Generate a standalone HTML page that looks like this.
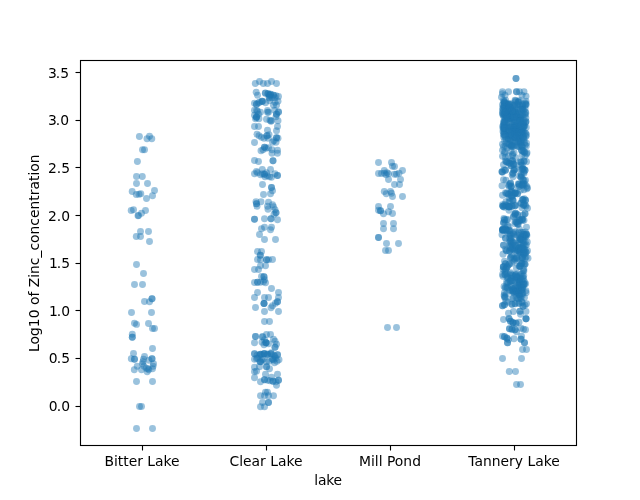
<!DOCTYPE html>
<html lang="en"><head><meta charset="utf-8"><title>Log10 of Zinc_concentration by lake</title>
<style>html,body{margin:0;padding:0;background:#fff;}body{width:640px;height:500px;overflow:hidden;}svg{display:block;}text{font-family:"DejaVu Sans","Liberation Sans",sans-serif;font-size:13.889px;fill:#000;}</style></head><body>
<svg width="640" height="500" viewBox="0 0 640 500">
<rect x="0" y="0" width="640" height="500" fill="#ffffff"/>
<g fill="#1f77b4" fill-opacity="0.450" stroke="none">
<circle cx="139.40" cy="136.50" r="3.47"/>
<circle cx="149.50" cy="136.20" r="3.47"/>
<circle cx="147.00" cy="138.70" r="3.47"/>
<circle cx="151.80" cy="138.70" r="3.47"/>
<circle cx="142.50" cy="149.70" r="3.47"/>
<circle cx="144.50" cy="149.70" r="3.47"/>
<circle cx="137.40" cy="161.50" r="3.47"/>
<circle cx="136.50" cy="176.50" r="3.47"/>
<circle cx="142.30" cy="176.50" r="3.47"/>
<circle cx="136.50" cy="183.50" r="3.47"/>
<circle cx="147.50" cy="183.50" r="3.47"/>
<circle cx="132.20" cy="191.50" r="3.47"/>
<circle cx="154.50" cy="190.50" r="3.47"/>
<circle cx="136.30" cy="194.50" r="3.47"/>
<circle cx="139.00" cy="194.20" r="3.47"/>
<circle cx="140.80" cy="193.70" r="3.47"/>
<circle cx="152.50" cy="195.70" r="3.47"/>
<circle cx="146.50" cy="198.50" r="3.47"/>
<circle cx="131.20" cy="210.50" r="3.47"/>
<circle cx="133.50" cy="209.70" r="3.47"/>
<circle cx="145.50" cy="210.50" r="3.47"/>
<circle cx="141.50" cy="213.20" r="3.47"/>
<circle cx="138.50" cy="215.50" r="3.47"/>
<circle cx="138.00" cy="215.70" r="3.47"/>
<circle cx="140.50" cy="231.50" r="3.47"/>
<circle cx="148.50" cy="231.50" r="3.47"/>
<circle cx="136.30" cy="236.50" r="3.47"/>
<circle cx="140.50" cy="236.50" r="3.47"/>
<circle cx="149.50" cy="241.50" r="3.47"/>
<circle cx="136.50" cy="264.50" r="3.47"/>
<circle cx="143.50" cy="273.50" r="3.47"/>
<circle cx="134.50" cy="284.50" r="3.47"/>
<circle cx="142.50" cy="284.50" r="3.47"/>
<circle cx="144.50" cy="301.50" r="3.47"/>
<circle cx="149.50" cy="301.70" r="3.47"/>
<circle cx="152.00" cy="298.70" r="3.47"/>
<circle cx="152.00" cy="298.70" r="3.47"/>
<circle cx="131.50" cy="312.50" r="3.47"/>
<circle cx="151.50" cy="312.50" r="3.47"/>
<circle cx="134.50" cy="323.20" r="3.47"/>
<circle cx="136.50" cy="324.40" r="3.47"/>
<circle cx="148.50" cy="323.50" r="3.47"/>
<circle cx="152.50" cy="328.50" r="3.47"/>
<circle cx="154.50" cy="328.50" r="3.47"/>
<circle cx="132.30" cy="334.20" r="3.47"/>
<circle cx="132.30" cy="337.20" r="3.47"/>
<circle cx="132.30" cy="337.20" r="3.47"/>
<circle cx="152.50" cy="348.50" r="3.47"/>
<circle cx="133.50" cy="353.50" r="3.47"/>
<circle cx="131.30" cy="358.70" r="3.47"/>
<circle cx="134.50" cy="359.20" r="3.47"/>
<circle cx="134.50" cy="359.20" r="3.47"/>
<circle cx="144.50" cy="356.50" r="3.47"/>
<circle cx="143.50" cy="359.20" r="3.47"/>
<circle cx="152.00" cy="358.70" r="3.47"/>
<circle cx="152.00" cy="358.70" r="3.47"/>
<circle cx="149.00" cy="360.20" r="3.47"/>
<circle cx="153.50" cy="363.70" r="3.47"/>
<circle cx="142.50" cy="363.70" r="3.47"/>
<circle cx="137.20" cy="366.20" r="3.47"/>
<circle cx="134.30" cy="369.70" r="3.47"/>
<circle cx="141.50" cy="369.70" r="3.47"/>
<circle cx="146.20" cy="368.20" r="3.47"/>
<circle cx="148.00" cy="368.80" r="3.47"/>
<circle cx="148.80" cy="369.80" r="3.47"/>
<circle cx="147.20" cy="371.70" r="3.47"/>
<circle cx="152.50" cy="368.70" r="3.47"/>
<circle cx="144.00" cy="366.20" r="3.47"/>
<circle cx="136.50" cy="381.50" r="3.47"/>
<circle cx="152.50" cy="381.50" r="3.47"/>
<circle cx="153.00" cy="366.20" r="3.47"/>
<circle cx="143.00" cy="361.70" r="3.47"/>
<circle cx="139.50" cy="406.50" r="3.47"/>
<circle cx="141.50" cy="406.50" r="3.47"/>
<circle cx="136.50" cy="428.50" r="3.47"/>
<circle cx="152.50" cy="428.50" r="3.47"/>
<circle cx="255.30" cy="83.50" r="3.47"/>
<circle cx="259.50" cy="81.50" r="3.47"/>
<circle cx="263.30" cy="83.50" r="3.47"/>
<circle cx="267.50" cy="83.50" r="3.47"/>
<circle cx="271.50" cy="81.50" r="3.47"/>
<circle cx="276.50" cy="83.50" r="3.47"/>
<circle cx="256.20" cy="92.20" r="3.47"/>
<circle cx="257.50" cy="95.20" r="3.47"/>
<circle cx="265.30" cy="93.20" r="3.47"/>
<circle cx="268.00" cy="93.70" r="3.47"/>
<circle cx="268.00" cy="93.70" r="3.47"/>
<circle cx="270.50" cy="94.20" r="3.47"/>
<circle cx="270.50" cy="94.20" r="3.47"/>
<circle cx="273.50" cy="95.20" r="3.47"/>
<circle cx="273.50" cy="95.20" r="3.47"/>
<circle cx="276.00" cy="95.70" r="3.47"/>
<circle cx="278.50" cy="96.50" r="3.47"/>
<circle cx="269.00" cy="97.20" r="3.47"/>
<circle cx="272.00" cy="97.70" r="3.47"/>
<circle cx="275.00" cy="97.70" r="3.47"/>
<circle cx="262.00" cy="101.20" r="3.47"/>
<circle cx="262.00" cy="101.20" r="3.47"/>
<circle cx="259.50" cy="102.20" r="3.47"/>
<circle cx="256.50" cy="104.20" r="3.47"/>
<circle cx="256.50" cy="104.20" r="3.47"/>
<circle cx="254.50" cy="103.20" r="3.47"/>
<circle cx="265.50" cy="102.70" r="3.47"/>
<circle cx="269.50" cy="100.70" r="3.47"/>
<circle cx="275.00" cy="102.20" r="3.47"/>
<circle cx="278.00" cy="101.20" r="3.47"/>
<circle cx="273.50" cy="105.20" r="3.47"/>
<circle cx="276.50" cy="105.20" r="3.47"/>
<circle cx="267.50" cy="110.50" r="3.47"/>
<circle cx="268.50" cy="112.20" r="3.47"/>
<circle cx="254.50" cy="110.20" r="3.47"/>
<circle cx="257.50" cy="111.20" r="3.47"/>
<circle cx="260.50" cy="112.20" r="3.47"/>
<circle cx="274.50" cy="110.20" r="3.47"/>
<circle cx="278.50" cy="111.70" r="3.47"/>
<circle cx="254.50" cy="115.20" r="3.47"/>
<circle cx="256.50" cy="117.20" r="3.47"/>
<circle cx="256.50" cy="117.20" r="3.47"/>
<circle cx="258.50" cy="114.20" r="3.47"/>
<circle cx="255.50" cy="118.70" r="3.47"/>
<circle cx="259.00" cy="118.70" r="3.47"/>
<circle cx="267.50" cy="112.20" r="3.47"/>
<circle cx="276.50" cy="114.20" r="3.47"/>
<circle cx="276.50" cy="114.20" r="3.47"/>
<circle cx="278.50" cy="112.20" r="3.47"/>
<circle cx="276.00" cy="116.70" r="3.47"/>
<circle cx="266.50" cy="119.20" r="3.47"/>
<circle cx="270.00" cy="120.20" r="3.47"/>
<circle cx="271.50" cy="120.70" r="3.47"/>
<circle cx="278.00" cy="120.70" r="3.47"/>
<circle cx="254.50" cy="126.50" r="3.47"/>
<circle cx="258.50" cy="126.50" r="3.47"/>
<circle cx="277.50" cy="126.50" r="3.47"/>
<circle cx="267.50" cy="130.20" r="3.47"/>
<circle cx="276.50" cy="130.70" r="3.47"/>
<circle cx="257.00" cy="134.20" r="3.47"/>
<circle cx="259.00" cy="135.70" r="3.47"/>
<circle cx="261.50" cy="137.20" r="3.47"/>
<circle cx="264.00" cy="138.20" r="3.47"/>
<circle cx="267.00" cy="135.70" r="3.47"/>
<circle cx="267.00" cy="135.70" r="3.47"/>
<circle cx="269.00" cy="134.70" r="3.47"/>
<circle cx="268.00" cy="138.20" r="3.47"/>
<circle cx="276.50" cy="137.70" r="3.47"/>
<circle cx="276.50" cy="137.70" r="3.47"/>
<circle cx="278.00" cy="138.20" r="3.47"/>
<circle cx="274.00" cy="140.70" r="3.47"/>
<circle cx="272.50" cy="142.20" r="3.47"/>
<circle cx="276.00" cy="142.20" r="3.47"/>
<circle cx="254.50" cy="142.50" r="3.47"/>
<circle cx="264.50" cy="147.20" r="3.47"/>
<circle cx="264.50" cy="147.20" r="3.47"/>
<circle cx="266.00" cy="148.20" r="3.47"/>
<circle cx="263.00" cy="149.70" r="3.47"/>
<circle cx="261.00" cy="150.70" r="3.47"/>
<circle cx="268.50" cy="147.70" r="3.47"/>
<circle cx="272.00" cy="149.70" r="3.47"/>
<circle cx="277.50" cy="150.20" r="3.47"/>
<circle cx="272.00" cy="153.20" r="3.47"/>
<circle cx="277.50" cy="153.20" r="3.47"/>
<circle cx="254.50" cy="160.50" r="3.47"/>
<circle cx="258.50" cy="161.50" r="3.47"/>
<circle cx="273.00" cy="160.70" r="3.47"/>
<circle cx="273.00" cy="160.70" r="3.47"/>
<circle cx="262.30" cy="169.50" r="3.47"/>
<circle cx="270.50" cy="169.50" r="3.47"/>
<circle cx="256.50" cy="171.50" r="3.47"/>
<circle cx="254.50" cy="173.70" r="3.47"/>
<circle cx="257.50" cy="172.70" r="3.47"/>
<circle cx="260.50" cy="174.70" r="3.47"/>
<circle cx="262.50" cy="173.70" r="3.47"/>
<circle cx="264.50" cy="174.20" r="3.47"/>
<circle cx="264.50" cy="174.20" r="3.47"/>
<circle cx="266.50" cy="172.70" r="3.47"/>
<circle cx="267.50" cy="175.70" r="3.47"/>
<circle cx="269.50" cy="176.70" r="3.47"/>
<circle cx="265.00" cy="176.70" r="3.47"/>
<circle cx="271.50" cy="177.20" r="3.47"/>
<circle cx="275.00" cy="173.70" r="3.47"/>
<circle cx="277.50" cy="175.50" r="3.47"/>
<circle cx="277.50" cy="175.50" r="3.47"/>
<circle cx="262.50" cy="184.50" r="3.47"/>
<circle cx="271.50" cy="187.50" r="3.47"/>
<circle cx="271.50" cy="187.50" r="3.47"/>
<circle cx="272.50" cy="190.70" r="3.47"/>
<circle cx="270.50" cy="193.70" r="3.47"/>
<circle cx="263.50" cy="194.50" r="3.47"/>
<circle cx="256.00" cy="201.70" r="3.47"/>
<circle cx="256.50" cy="203.70" r="3.47"/>
<circle cx="256.50" cy="203.70" r="3.47"/>
<circle cx="257.00" cy="206.20" r="3.47"/>
<circle cx="261.00" cy="201.70" r="3.47"/>
<circle cx="268.50" cy="202.20" r="3.47"/>
<circle cx="267.50" cy="206.20" r="3.47"/>
<circle cx="268.00" cy="209.20" r="3.47"/>
<circle cx="272.50" cy="204.70" r="3.47"/>
<circle cx="273.50" cy="206.70" r="3.47"/>
<circle cx="275.00" cy="209.70" r="3.47"/>
<circle cx="276.00" cy="212.70" r="3.47"/>
<circle cx="276.00" cy="212.70" r="3.47"/>
<circle cx="274.00" cy="214.20" r="3.47"/>
<circle cx="254.50" cy="219.20" r="3.47"/>
<circle cx="254.50" cy="219.20" r="3.47"/>
<circle cx="264.50" cy="218.70" r="3.47"/>
<circle cx="271.00" cy="218.70" r="3.47"/>
<circle cx="271.00" cy="218.70" r="3.47"/>
<circle cx="277.50" cy="219.70" r="3.47"/>
<circle cx="264.50" cy="227.20" r="3.47"/>
<circle cx="261.50" cy="228.70" r="3.47"/>
<circle cx="271.50" cy="227.20" r="3.47"/>
<circle cx="270.50" cy="229.70" r="3.47"/>
<circle cx="259.50" cy="234.50" r="3.47"/>
<circle cx="264.50" cy="239.50" r="3.47"/>
<circle cx="275.50" cy="239.50" r="3.47"/>
<circle cx="257.50" cy="251.50" r="3.47"/>
<circle cx="261.50" cy="251.50" r="3.47"/>
<circle cx="260.30" cy="255.20" r="3.47"/>
<circle cx="260.30" cy="255.20" r="3.47"/>
<circle cx="257.50" cy="259.50" r="3.47"/>
<circle cx="260.50" cy="259.70" r="3.47"/>
<circle cx="266.50" cy="259.70" r="3.47"/>
<circle cx="266.50" cy="259.70" r="3.47"/>
<circle cx="268.50" cy="259.70" r="3.47"/>
<circle cx="272.50" cy="259.50" r="3.47"/>
<circle cx="260.50" cy="265.70" r="3.47"/>
<circle cx="265.50" cy="265.70" r="3.47"/>
<circle cx="254.50" cy="269.50" r="3.47"/>
<circle cx="258.50" cy="269.50" r="3.47"/>
<circle cx="261.50" cy="276.50" r="3.47"/>
<circle cx="264.00" cy="276.70" r="3.47"/>
<circle cx="264.00" cy="276.70" r="3.47"/>
<circle cx="254.50" cy="282.50" r="3.47"/>
<circle cx="257.50" cy="282.20" r="3.47"/>
<circle cx="257.50" cy="282.20" r="3.47"/>
<circle cx="260.50" cy="282.20" r="3.47"/>
<circle cx="263.50" cy="281.70" r="3.47"/>
<circle cx="265.50" cy="282.70" r="3.47"/>
<circle cx="264.50" cy="279.70" r="3.47"/>
<circle cx="271.50" cy="288.50" r="3.47"/>
<circle cx="257.50" cy="292.50" r="3.47"/>
<circle cx="278.50" cy="292.50" r="3.47"/>
<circle cx="254.50" cy="297.50" r="3.47"/>
<circle cx="264.50" cy="297.50" r="3.47"/>
<circle cx="268.50" cy="297.50" r="3.47"/>
<circle cx="278.50" cy="297.50" r="3.47"/>
<circle cx="264.00" cy="303.50" r="3.47"/>
<circle cx="264.00" cy="303.50" r="3.47"/>
<circle cx="264.00" cy="303.50" r="3.47"/>
<circle cx="277.50" cy="301.70" r="3.47"/>
<circle cx="277.50" cy="301.70" r="3.47"/>
<circle cx="275.50" cy="303.20" r="3.47"/>
<circle cx="272.50" cy="305.70" r="3.47"/>
<circle cx="271.00" cy="307.70" r="3.47"/>
<circle cx="255.50" cy="307.50" r="3.47"/>
<circle cx="264.50" cy="311.50" r="3.47"/>
<circle cx="278.50" cy="311.50" r="3.47"/>
<circle cx="264.50" cy="321.50" r="3.47"/>
<circle cx="269.50" cy="321.50" r="3.47"/>
<circle cx="255.50" cy="336.50" r="3.47"/>
<circle cx="255.50" cy="336.50" r="3.47"/>
<circle cx="266.50" cy="334.50" r="3.47"/>
<circle cx="270.50" cy="334.50" r="3.47"/>
<circle cx="262.50" cy="336.70" r="3.47"/>
<circle cx="262.50" cy="336.70" r="3.47"/>
<circle cx="254.50" cy="342.70" r="3.47"/>
<circle cx="264.50" cy="339.70" r="3.47"/>
<circle cx="266.00" cy="342.70" r="3.47"/>
<circle cx="266.00" cy="342.70" r="3.47"/>
<circle cx="266.00" cy="342.70" r="3.47"/>
<circle cx="262.00" cy="342.20" r="3.47"/>
<circle cx="268.50" cy="343.70" r="3.47"/>
<circle cx="264.00" cy="344.70" r="3.47"/>
<circle cx="273.50" cy="339.20" r="3.47"/>
<circle cx="275.00" cy="341.20" r="3.47"/>
<circle cx="276.50" cy="344.20" r="3.47"/>
<circle cx="275.00" cy="347.20" r="3.47"/>
<circle cx="275.00" cy="347.20" r="3.47"/>
<circle cx="254.50" cy="353.70" r="3.47"/>
<circle cx="254.50" cy="353.70" r="3.47"/>
<circle cx="257.00" cy="355.20" r="3.47"/>
<circle cx="260.50" cy="354.20" r="3.47"/>
<circle cx="260.50" cy="354.20" r="3.47"/>
<circle cx="264.00" cy="353.70" r="3.47"/>
<circle cx="264.00" cy="353.70" r="3.47"/>
<circle cx="267.50" cy="354.20" r="3.47"/>
<circle cx="267.50" cy="354.20" r="3.47"/>
<circle cx="271.00" cy="353.70" r="3.47"/>
<circle cx="271.00" cy="353.70" r="3.47"/>
<circle cx="274.00" cy="355.20" r="3.47"/>
<circle cx="277.50" cy="354.70" r="3.47"/>
<circle cx="277.50" cy="354.70" r="3.47"/>
<circle cx="254.50" cy="359.20" r="3.47"/>
<circle cx="257.50" cy="358.20" r="3.47"/>
<circle cx="260.50" cy="361.70" r="3.47"/>
<circle cx="260.50" cy="361.70" r="3.47"/>
<circle cx="263.00" cy="359.20" r="3.47"/>
<circle cx="266.50" cy="361.70" r="3.47"/>
<circle cx="269.00" cy="361.20" r="3.47"/>
<circle cx="272.50" cy="359.20" r="3.47"/>
<circle cx="272.50" cy="359.20" r="3.47"/>
<circle cx="275.50" cy="358.20" r="3.47"/>
<circle cx="277.00" cy="361.20" r="3.47"/>
<circle cx="279.00" cy="359.70" r="3.47"/>
<circle cx="274.50" cy="362.70" r="3.47"/>
<circle cx="254.50" cy="367.20" r="3.47"/>
<circle cx="259.50" cy="366.70" r="3.47"/>
<circle cx="266.50" cy="366.70" r="3.47"/>
<circle cx="266.50" cy="366.70" r="3.47"/>
<circle cx="269.50" cy="368.70" r="3.47"/>
<circle cx="254.50" cy="371.70" r="3.47"/>
<circle cx="256.50" cy="371.20" r="3.47"/>
<circle cx="265.50" cy="374.20" r="3.47"/>
<circle cx="277.50" cy="374.20" r="3.47"/>
<circle cx="254.50" cy="377.70" r="3.47"/>
<circle cx="271.50" cy="377.20" r="3.47"/>
<circle cx="264.50" cy="379.70" r="3.47"/>
<circle cx="264.50" cy="379.70" r="3.47"/>
<circle cx="267.50" cy="380.20" r="3.47"/>
<circle cx="270.00" cy="380.70" r="3.47"/>
<circle cx="273.00" cy="381.20" r="3.47"/>
<circle cx="273.00" cy="381.20" r="3.47"/>
<circle cx="276.00" cy="381.70" r="3.47"/>
<circle cx="278.50" cy="380.20" r="3.47"/>
<circle cx="278.50" cy="380.20" r="3.47"/>
<circle cx="260.50" cy="381.70" r="3.47"/>
<circle cx="276.50" cy="385.20" r="3.47"/>
<circle cx="265.50" cy="392.20" r="3.47"/>
<circle cx="267.50" cy="392.20" r="3.47"/>
<circle cx="260.50" cy="395.70" r="3.47"/>
<circle cx="264.50" cy="395.70" r="3.47"/>
<circle cx="268.50" cy="395.70" r="3.47"/>
<circle cx="273.50" cy="395.70" r="3.47"/>
<circle cx="262.50" cy="402.50" r="3.47"/>
<circle cx="268.50" cy="402.50" r="3.47"/>
<circle cx="268.50" cy="402.50" r="3.47"/>
<circle cx="260.50" cy="406.70" r="3.47"/>
<circle cx="264.50" cy="406.70" r="3.47"/>
<circle cx="265.41" cy="92.89" r="3.47"/>
<circle cx="269.33" cy="95.01" r="3.47"/>
<circle cx="269.86" cy="95.39" r="3.47"/>
<circle cx="269.32" cy="98.08" r="3.47"/>
<circle cx="262.62" cy="101.42" r="3.47"/>
<circle cx="258.37" cy="103.08" r="3.47"/>
<circle cx="256.63" cy="110.52" r="3.47"/>
<circle cx="256.52" cy="116.93" r="3.47"/>
<circle cx="270.87" cy="121.32" r="3.47"/>
<circle cx="261.30" cy="354.38" r="3.47"/>
<circle cx="259.45" cy="355.05" r="3.47"/>
<circle cx="264.72" cy="353.49" r="3.47"/>
<circle cx="267.01" cy="354.85" r="3.47"/>
<circle cx="271.27" cy="352.61" r="3.47"/>
<circle cx="274.91" cy="356.35" r="3.47"/>
<circle cx="256.48" cy="358.44" r="3.47"/>
<circle cx="259.77" cy="361.48" r="3.47"/>
<circle cx="261.90" cy="360.08" r="3.47"/>
<circle cx="273.60" cy="360.15" r="3.47"/>
<circle cx="378.50" cy="162.50" r="3.47"/>
<circle cx="391.50" cy="162.50" r="3.47"/>
<circle cx="394.50" cy="166.50" r="3.47"/>
<circle cx="392.50" cy="166.20" r="3.47"/>
<circle cx="402.50" cy="170.50" r="3.47"/>
<circle cx="384.30" cy="170.50" r="3.47"/>
<circle cx="378.50" cy="173.50" r="3.47"/>
<circle cx="381.50" cy="173.50" r="3.47"/>
<circle cx="384.50" cy="173.20" r="3.47"/>
<circle cx="387.00" cy="172.70" r="3.47"/>
<circle cx="388.50" cy="173.70" r="3.47"/>
<circle cx="386.00" cy="174.70" r="3.47"/>
<circle cx="394.50" cy="174.20" r="3.47"/>
<circle cx="396.50" cy="174.20" r="3.47"/>
<circle cx="399.00" cy="173.20" r="3.47"/>
<circle cx="388.50" cy="179.50" r="3.47"/>
<circle cx="400.50" cy="179.50" r="3.47"/>
<circle cx="394.50" cy="184.50" r="3.47"/>
<circle cx="399.50" cy="184.50" r="3.47"/>
<circle cx="384.30" cy="191.50" r="3.47"/>
<circle cx="390.50" cy="191.50" r="3.47"/>
<circle cx="386.30" cy="193.70" r="3.47"/>
<circle cx="391.50" cy="193.20" r="3.47"/>
<circle cx="392.50" cy="196.50" r="3.47"/>
<circle cx="402.50" cy="196.50" r="3.47"/>
<circle cx="378.50" cy="206.50" r="3.47"/>
<circle cx="390.50" cy="206.50" r="3.47"/>
<circle cx="378.50" cy="210.20" r="3.47"/>
<circle cx="380.50" cy="210.70" r="3.47"/>
<circle cx="380.50" cy="210.70" r="3.47"/>
<circle cx="383.50" cy="213.70" r="3.47"/>
<circle cx="388.50" cy="211.70" r="3.47"/>
<circle cx="392.50" cy="213.50" r="3.47"/>
<circle cx="383.50" cy="223.50" r="3.47"/>
<circle cx="393.50" cy="223.50" r="3.47"/>
<circle cx="383.50" cy="228.70" r="3.47"/>
<circle cx="393.50" cy="228.70" r="3.47"/>
<circle cx="378.50" cy="237.50" r="3.47"/>
<circle cx="378.50" cy="237.50" r="3.47"/>
<circle cx="386.50" cy="243.50" r="3.47"/>
<circle cx="398.50" cy="243.50" r="3.47"/>
<circle cx="385.50" cy="250.50" r="3.47"/>
<circle cx="388.50" cy="250.50" r="3.47"/>
<circle cx="387.50" cy="327.50" r="3.47"/>
<circle cx="396.50" cy="327.50" r="3.47"/>
<circle cx="516.00" cy="78.50" r="3.47"/>
<circle cx="516.00" cy="78.50" r="3.47"/>
<circle cx="502.50" cy="91.70" r="3.47"/>
<circle cx="508.50" cy="91.70" r="3.47"/>
<circle cx="516.50" cy="91.70" r="3.47"/>
<circle cx="516.50" cy="91.70" r="3.47"/>
<circle cx="519.50" cy="91.70" r="3.47"/>
<circle cx="524.00" cy="91.70" r="3.47"/>
<circle cx="502.50" cy="93.70" r="3.47"/>
<circle cx="501.50" cy="97.20" r="3.47"/>
<circle cx="505.00" cy="95.20" r="3.47"/>
<circle cx="522.00" cy="95.20" r="3.47"/>
<circle cx="526.00" cy="96.20" r="3.47"/>
<circle cx="510.27" cy="104.75" r="3.47"/>
<circle cx="518.12" cy="102.13" r="3.47"/>
<circle cx="515.36" cy="111.95" r="3.47"/>
<circle cx="503.89" cy="116.70" r="3.47"/>
<circle cx="503.40" cy="114.23" r="3.47"/>
<circle cx="504.18" cy="102.74" r="3.47"/>
<circle cx="512.69" cy="127.40" r="3.47"/>
<circle cx="505.47" cy="107.18" r="3.47"/>
<circle cx="517.56" cy="131.45" r="3.47"/>
<circle cx="516.35" cy="112.99" r="3.47"/>
<circle cx="525.93" cy="101.26" r="3.47"/>
<circle cx="523.10" cy="109.40" r="3.47"/>
<circle cx="505.96" cy="103.65" r="3.47"/>
<circle cx="509.90" cy="127.04" r="3.47"/>
<circle cx="506.84" cy="119.18" r="3.47"/>
<circle cx="517.83" cy="112.18" r="3.47"/>
<circle cx="515.65" cy="101.80" r="3.47"/>
<circle cx="503.93" cy="106.60" r="3.47"/>
<circle cx="518.83" cy="114.02" r="3.47"/>
<circle cx="510.04" cy="119.32" r="3.47"/>
<circle cx="513.38" cy="109.74" r="3.47"/>
<circle cx="521.57" cy="123.12" r="3.47"/>
<circle cx="508.36" cy="118.94" r="3.47"/>
<circle cx="515.10" cy="129.02" r="3.47"/>
<circle cx="520.01" cy="109.35" r="3.47"/>
<circle cx="526.02" cy="103.66" r="3.47"/>
<circle cx="512.53" cy="125.06" r="3.47"/>
<circle cx="506.15" cy="116.08" r="3.47"/>
<circle cx="503.44" cy="122.09" r="3.47"/>
<circle cx="520.85" cy="118.90" r="3.47"/>
<circle cx="523.51" cy="110.21" r="3.47"/>
<circle cx="519.19" cy="119.61" r="3.47"/>
<circle cx="516.42" cy="114.98" r="3.47"/>
<circle cx="522.66" cy="131.35" r="3.47"/>
<circle cx="513.88" cy="121.95" r="3.47"/>
<circle cx="503.96" cy="123.20" r="3.47"/>
<circle cx="518.03" cy="132.97" r="3.47"/>
<circle cx="522.23" cy="109.23" r="3.47"/>
<circle cx="511.76" cy="122.10" r="3.47"/>
<circle cx="503.04" cy="115.17" r="3.47"/>
<circle cx="506.53" cy="103.62" r="3.47"/>
<circle cx="503.91" cy="125.44" r="3.47"/>
<circle cx="505.60" cy="108.00" r="3.47"/>
<circle cx="511.88" cy="128.89" r="3.47"/>
<circle cx="504.43" cy="114.75" r="3.47"/>
<circle cx="515.69" cy="129.29" r="3.47"/>
<circle cx="522.16" cy="128.64" r="3.47"/>
<circle cx="509.18" cy="113.61" r="3.47"/>
<circle cx="511.11" cy="129.32" r="3.47"/>
<circle cx="525.49" cy="104.76" r="3.47"/>
<circle cx="506.73" cy="107.47" r="3.47"/>
<circle cx="508.10" cy="115.95" r="3.47"/>
<circle cx="516.64" cy="108.50" r="3.47"/>
<circle cx="502.60" cy="113.73" r="3.47"/>
<circle cx="511.36" cy="118.67" r="3.47"/>
<circle cx="525.37" cy="122.83" r="3.47"/>
<circle cx="514.87" cy="120.39" r="3.47"/>
<circle cx="518.73" cy="101.51" r="3.47"/>
<circle cx="524.09" cy="125.83" r="3.47"/>
<circle cx="523.49" cy="126.43" r="3.47"/>
<circle cx="511.92" cy="113.07" r="3.47"/>
<circle cx="504.98" cy="120.95" r="3.47"/>
<circle cx="503.99" cy="101.96" r="3.47"/>
<circle cx="507.51" cy="105.14" r="3.47"/>
<circle cx="502.51" cy="104.77" r="3.47"/>
<circle cx="504.94" cy="111.88" r="3.47"/>
<circle cx="503.11" cy="128.99" r="3.47"/>
<circle cx="517.24" cy="104.68" r="3.47"/>
<circle cx="508.55" cy="111.34" r="3.47"/>
<circle cx="511.24" cy="103.82" r="3.47"/>
<circle cx="522.87" cy="132.97" r="3.47"/>
<circle cx="513.68" cy="115.91" r="3.47"/>
<circle cx="504.56" cy="103.12" r="3.47"/>
<circle cx="510.72" cy="108.57" r="3.47"/>
<circle cx="522.39" cy="105.11" r="3.47"/>
<circle cx="503.05" cy="131.56" r="3.47"/>
<circle cx="515.18" cy="104.61" r="3.47"/>
<circle cx="515.54" cy="100.61" r="3.47"/>
<circle cx="515.17" cy="132.48" r="3.47"/>
<circle cx="523.22" cy="123.02" r="3.47"/>
<circle cx="508.77" cy="111.98" r="3.47"/>
<circle cx="506.51" cy="125.56" r="3.47"/>
<circle cx="515.28" cy="125.80" r="3.47"/>
<circle cx="510.41" cy="107.17" r="3.47"/>
<circle cx="521.98" cy="132.70" r="3.47"/>
<circle cx="522.96" cy="126.70" r="3.47"/>
<circle cx="522.14" cy="124.49" r="3.47"/>
<circle cx="507.94" cy="117.04" r="3.47"/>
<circle cx="503.17" cy="109.06" r="3.47"/>
<circle cx="508.72" cy="122.90" r="3.47"/>
<circle cx="525.46" cy="114.68" r="3.47"/>
<circle cx="524.99" cy="132.80" r="3.47"/>
<circle cx="525.42" cy="111.92" r="3.47"/>
<circle cx="507.79" cy="107.30" r="3.47"/>
<circle cx="507.22" cy="106.55" r="3.47"/>
<circle cx="517.48" cy="129.86" r="3.47"/>
<circle cx="522.67" cy="115.76" r="3.47"/>
<circle cx="518.17" cy="126.49" r="3.47"/>
<circle cx="504.53" cy="121.83" r="3.47"/>
<circle cx="524.33" cy="125.91" r="3.47"/>
<circle cx="520.50" cy="115.71" r="3.47"/>
<circle cx="506.78" cy="126.14" r="3.47"/>
<circle cx="510.48" cy="126.53" r="3.47"/>
<circle cx="525.82" cy="112.96" r="3.47"/>
<circle cx="512.13" cy="131.42" r="3.47"/>
<circle cx="519.90" cy="105.40" r="3.47"/>
<circle cx="505.55" cy="104.76" r="3.47"/>
<circle cx="524.22" cy="126.72" r="3.47"/>
<circle cx="506.01" cy="127.39" r="3.47"/>
<circle cx="526.03" cy="121.72" r="3.47"/>
<circle cx="510.91" cy="118.08" r="3.47"/>
<circle cx="505.64" cy="100.18" r="3.47"/>
<circle cx="525.80" cy="121.46" r="3.47"/>
<circle cx="515.14" cy="130.98" r="3.47"/>
<circle cx="512.91" cy="128.90" r="3.47"/>
<circle cx="522.33" cy="106.77" r="3.47"/>
<circle cx="508.54" cy="109.51" r="3.47"/>
<circle cx="508.27" cy="119.35" r="3.47"/>
<circle cx="508.72" cy="113.74" r="3.47"/>
<circle cx="505.65" cy="130.19" r="3.47"/>
<circle cx="510.99" cy="115.05" r="3.47"/>
<circle cx="516.50" cy="129.99" r="3.47"/>
<circle cx="512.60" cy="130.44" r="3.47"/>
<circle cx="514.54" cy="117.52" r="3.47"/>
<circle cx="515.06" cy="100.33" r="3.47"/>
<circle cx="513.06" cy="105.83" r="3.47"/>
<circle cx="502.59" cy="126.47" r="3.47"/>
<circle cx="506.64" cy="115.56" r="3.47"/>
<circle cx="519.90" cy="118.34" r="3.47"/>
<circle cx="510.32" cy="117.06" r="3.47"/>
<circle cx="515.83" cy="125.97" r="3.47"/>
<circle cx="505.05" cy="118.47" r="3.47"/>
<circle cx="508.46" cy="108.98" r="3.47"/>
<circle cx="521.03" cy="116.71" r="3.47"/>
<circle cx="515.98" cy="125.16" r="3.47"/>
<circle cx="524.40" cy="114.55" r="3.47"/>
<circle cx="517.20" cy="116.64" r="3.47"/>
<circle cx="514.79" cy="122.91" r="3.47"/>
<circle cx="513.36" cy="117.57" r="3.47"/>
<circle cx="513.97" cy="131.24" r="3.47"/>
<circle cx="519.28" cy="129.06" r="3.47"/>
<circle cx="525.11" cy="108.40" r="3.47"/>
<circle cx="515.93" cy="131.30" r="3.47"/>
<circle cx="522.66" cy="104.29" r="3.47"/>
<circle cx="505.42" cy="114.51" r="3.47"/>
<circle cx="504.24" cy="107.76" r="3.47"/>
<circle cx="504.25" cy="122.13" r="3.47"/>
<circle cx="521.31" cy="129.75" r="3.47"/>
<circle cx="506.21" cy="123.69" r="3.47"/>
<circle cx="518.35" cy="104.49" r="3.47"/>
<circle cx="523.69" cy="132.11" r="3.47"/>
<circle cx="507.77" cy="131.61" r="3.47"/>
<circle cx="512.06" cy="116.02" r="3.47"/>
<circle cx="526.26" cy="127.59" r="3.47"/>
<circle cx="506.38" cy="114.16" r="3.47"/>
<circle cx="514.87" cy="111.06" r="3.47"/>
<circle cx="507.20" cy="110.37" r="3.47"/>
<circle cx="519.83" cy="100.35" r="3.47"/>
<circle cx="515.80" cy="114.46" r="3.47"/>
<circle cx="502.93" cy="110.81" r="3.47"/>
<circle cx="517.47" cy="116.86" r="3.47"/>
<circle cx="504.04" cy="132.70" r="3.47"/>
<circle cx="521.42" cy="132.25" r="3.47"/>
<circle cx="505.01" cy="108.60" r="3.47"/>
<circle cx="503.45" cy="125.80" r="3.47"/>
<circle cx="508.99" cy="104.04" r="3.47"/>
<circle cx="512.63" cy="130.23" r="3.47"/>
<circle cx="522.16" cy="108.36" r="3.47"/>
<circle cx="506.08" cy="130.49" r="3.47"/>
<circle cx="516.19" cy="123.16" r="3.47"/>
<circle cx="504.65" cy="101.63" r="3.47"/>
<circle cx="519.02" cy="113.95" r="3.47"/>
<circle cx="504.24" cy="131.13" r="3.47"/>
<circle cx="517.73" cy="126.55" r="3.47"/>
<circle cx="504.51" cy="128.38" r="3.47"/>
<circle cx="504.10" cy="128.60" r="3.47"/>
<circle cx="513.39" cy="111.06" r="3.47"/>
<circle cx="515.77" cy="130.74" r="3.47"/>
<circle cx="508.93" cy="104.03" r="3.47"/>
<circle cx="515.15" cy="107.69" r="3.47"/>
<circle cx="505.13" cy="105.11" r="3.47"/>
<circle cx="503.71" cy="106.46" r="3.47"/>
<circle cx="509.99" cy="109.92" r="3.47"/>
<circle cx="520.73" cy="109.41" r="3.47"/>
<circle cx="514.50" cy="105.66" r="3.47"/>
<circle cx="520.09" cy="118.16" r="3.47"/>
<circle cx="507.05" cy="115.60" r="3.47"/>
<circle cx="524.93" cy="103.26" r="3.47"/>
<circle cx="522.15" cy="114.18" r="3.47"/>
<circle cx="514.38" cy="127.66" r="3.47"/>
<circle cx="511.93" cy="116.67" r="3.47"/>
<circle cx="519.01" cy="132.61" r="3.47"/>
<circle cx="510.72" cy="127.58" r="3.47"/>
<circle cx="519.46" cy="121.01" r="3.47"/>
<circle cx="512.21" cy="111.34" r="3.47"/>
<circle cx="503.81" cy="104.05" r="3.47"/>
<circle cx="504.20" cy="124.52" r="3.47"/>
<circle cx="508.63" cy="105.17" r="3.47"/>
<circle cx="504.53" cy="127.88" r="3.47"/>
<circle cx="523.39" cy="122.16" r="3.47"/>
<circle cx="509.27" cy="107.81" r="3.47"/>
<circle cx="509.53" cy="115.09" r="3.47"/>
<circle cx="506.28" cy="114.64" r="3.47"/>
<circle cx="508.82" cy="131.92" r="3.47"/>
<circle cx="525.84" cy="118.03" r="3.47"/>
<circle cx="508.37" cy="132.05" r="3.47"/>
<circle cx="509.93" cy="111.65" r="3.47"/>
<circle cx="502.53" cy="112.48" r="3.47"/>
<circle cx="513.89" cy="116.54" r="3.47"/>
<circle cx="507.32" cy="116.61" r="3.47"/>
<circle cx="502.62" cy="108.55" r="3.47"/>
<circle cx="504.65" cy="113.08" r="3.47"/>
<circle cx="503.50" cy="100.45" r="3.47"/>
<circle cx="509.80" cy="107.50" r="3.47"/>
<circle cx="516.55" cy="117.43" r="3.47"/>
<circle cx="520.51" cy="121.73" r="3.47"/>
<circle cx="519.68" cy="129.15" r="3.47"/>
<circle cx="511.85" cy="110.63" r="3.47"/>
<circle cx="526.13" cy="104.71" r="3.47"/>
<circle cx="519.88" cy="121.25" r="3.47"/>
<circle cx="503.55" cy="127.68" r="3.47"/>
<circle cx="523.91" cy="120.72" r="3.47"/>
<circle cx="520.11" cy="126.91" r="3.47"/>
<circle cx="505.84" cy="117.25" r="3.47"/>
<circle cx="514.60" cy="127.67" r="3.47"/>
<circle cx="521.81" cy="127.38" r="3.47"/>
<circle cx="516.52" cy="129.61" r="3.47"/>
<circle cx="518.89" cy="122.93" r="3.47"/>
<circle cx="505.69" cy="111.78" r="3.47"/>
<circle cx="505.02" cy="127.70" r="3.47"/>
<circle cx="515.90" cy="120.73" r="3.47"/>
<circle cx="517.53" cy="122.50" r="3.47"/>
<circle cx="521.64" cy="124.77" r="3.47"/>
<circle cx="514.57" cy="117.63" r="3.47"/>
<circle cx="518.32" cy="101.91" r="3.47"/>
<circle cx="518.32" cy="135.24" r="3.47"/>
<circle cx="509.04" cy="135.45" r="3.47"/>
<circle cx="518.21" cy="134.48" r="3.47"/>
<circle cx="518.36" cy="146.81" r="3.47"/>
<circle cx="514.92" cy="137.32" r="3.47"/>
<circle cx="514.71" cy="142.14" r="3.47"/>
<circle cx="518.74" cy="141.07" r="3.47"/>
<circle cx="517.00" cy="132.44" r="3.47"/>
<circle cx="510.06" cy="135.26" r="3.47"/>
<circle cx="518.41" cy="136.07" r="3.47"/>
<circle cx="515.95" cy="131.40" r="3.47"/>
<circle cx="508.85" cy="135.50" r="3.47"/>
<circle cx="517.41" cy="142.27" r="3.47"/>
<circle cx="517.46" cy="135.85" r="3.47"/>
<circle cx="515.23" cy="138.63" r="3.47"/>
<circle cx="514.53" cy="133.10" r="3.47"/>
<circle cx="520.51" cy="134.39" r="3.47"/>
<circle cx="521.69" cy="146.18" r="3.47"/>
<circle cx="508.25" cy="138.54" r="3.47"/>
<circle cx="519.48" cy="146.69" r="3.47"/>
<circle cx="514.29" cy="135.50" r="3.47"/>
<circle cx="510.94" cy="146.33" r="3.47"/>
<circle cx="510.95" cy="140.50" r="3.47"/>
<circle cx="509.98" cy="139.59" r="3.47"/>
<circle cx="521.34" cy="133.32" r="3.47"/>
<circle cx="519.48" cy="139.34" r="3.47"/>
<circle cx="520.42" cy="142.45" r="3.47"/>
<circle cx="511.24" cy="145.56" r="3.47"/>
<circle cx="514.81" cy="131.60" r="3.47"/>
<circle cx="508.05" cy="139.07" r="3.47"/>
<circle cx="514.31" cy="136.03" r="3.47"/>
<circle cx="509.97" cy="136.70" r="3.47"/>
<circle cx="512.43" cy="144.64" r="3.47"/>
<circle cx="508.02" cy="143.21" r="3.47"/>
<circle cx="519.75" cy="133.12" r="3.47"/>
<circle cx="520.97" cy="142.61" r="3.47"/>
<circle cx="520.62" cy="135.84" r="3.47"/>
<circle cx="513.21" cy="137.49" r="3.47"/>
<circle cx="521.98" cy="140.63" r="3.47"/>
<circle cx="513.05" cy="138.05" r="3.47"/>
<circle cx="511.85" cy="131.97" r="3.47"/>
<circle cx="509.42" cy="144.55" r="3.47"/>
<circle cx="512.00" cy="146.17" r="3.47"/>
<circle cx="511.49" cy="135.45" r="3.47"/>
<circle cx="515.15" cy="134.24" r="3.47"/>
<circle cx="513.23" cy="146.50" r="3.47"/>
<circle cx="520.38" cy="144.19" r="3.47"/>
<circle cx="516.83" cy="145.81" r="3.47"/>
<circle cx="521.17" cy="139.99" r="3.47"/>
<circle cx="518.07" cy="131.99" r="3.47"/>
<circle cx="518.25" cy="138.41" r="3.47"/>
<circle cx="518.54" cy="141.51" r="3.47"/>
<circle cx="512.01" cy="131.98" r="3.47"/>
<circle cx="520.97" cy="133.24" r="3.47"/>
<circle cx="514.61" cy="136.70" r="3.47"/>
<circle cx="512.17" cy="143.02" r="3.47"/>
<circle cx="521.67" cy="135.36" r="3.47"/>
<circle cx="517.18" cy="136.01" r="3.47"/>
<circle cx="515.80" cy="137.51" r="3.47"/>
<circle cx="510.34" cy="133.79" r="3.47"/>
<circle cx="503.54" cy="146.79" r="3.47"/>
<circle cx="504.99" cy="136.50" r="3.47"/>
<circle cx="507.03" cy="148.15" r="3.47"/>
<circle cx="504.75" cy="135.29" r="3.47"/>
<circle cx="503.46" cy="134.56" r="3.47"/>
<circle cx="504.21" cy="134.57" r="3.47"/>
<circle cx="503.70" cy="137.08" r="3.47"/>
<circle cx="505.35" cy="146.51" r="3.47"/>
<circle cx="506.25" cy="139.39" r="3.47"/>
<circle cx="504.57" cy="141.06" r="3.47"/>
<circle cx="524.01" cy="138.27" r="3.47"/>
<circle cx="522.75" cy="137.36" r="3.47"/>
<circle cx="526.37" cy="135.09" r="3.47"/>
<circle cx="524.51" cy="142.64" r="3.47"/>
<circle cx="525.95" cy="136.44" r="3.47"/>
<circle cx="523.58" cy="136.93" r="3.47"/>
<circle cx="524.10" cy="139.89" r="3.47"/>
<circle cx="526.32" cy="145.93" r="3.47"/>
<circle cx="525.99" cy="133.53" r="3.47"/>
<circle cx="502.50" cy="144.20" r="3.47"/>
<circle cx="506.00" cy="143.20" r="3.47"/>
<circle cx="509.50" cy="144.20" r="3.47"/>
<circle cx="512.00" cy="146.20" r="3.47"/>
<circle cx="515.00" cy="145.20" r="3.47"/>
<circle cx="522.00" cy="146.20" r="3.47"/>
<circle cx="525.00" cy="145.20" r="3.47"/>
<circle cx="526.50" cy="143.20" r="3.47"/>
<circle cx="502.50" cy="150.20" r="3.47"/>
<circle cx="504.50" cy="153.20" r="3.47"/>
<circle cx="521.50" cy="150.20" r="3.47"/>
<circle cx="521.50" cy="150.20" r="3.47"/>
<circle cx="524.50" cy="152.20" r="3.47"/>
<circle cx="524.50" cy="152.20" r="3.47"/>
<circle cx="527.00" cy="152.70" r="3.47"/>
<circle cx="514.00" cy="152.70" r="3.47"/>
<circle cx="511.00" cy="151.20" r="3.47"/>
<circle cx="502.50" cy="156.20" r="3.47"/>
<circle cx="508.50" cy="155.70" r="3.47"/>
<circle cx="505.50" cy="157.20" r="3.47"/>
<circle cx="522.00" cy="155.20" r="3.47"/>
<circle cx="525.00" cy="156.20" r="3.47"/>
<circle cx="512.50" cy="155.70" r="3.47"/>
<circle cx="515.50" cy="157.70" r="3.47"/>
<circle cx="503.50" cy="164.70" r="3.47"/>
<circle cx="506.50" cy="161.70" r="3.47"/>
<circle cx="506.50" cy="161.70" r="3.47"/>
<circle cx="509.50" cy="163.20" r="3.47"/>
<circle cx="509.50" cy="163.20" r="3.47"/>
<circle cx="512.50" cy="160.70" r="3.47"/>
<circle cx="512.50" cy="160.70" r="3.47"/>
<circle cx="514.00" cy="164.20" r="3.47"/>
<circle cx="514.00" cy="164.20" r="3.47"/>
<circle cx="511.00" cy="165.70" r="3.47"/>
<circle cx="511.00" cy="165.70" r="3.47"/>
<circle cx="521.00" cy="162.20" r="3.47"/>
<circle cx="521.00" cy="162.20" r="3.47"/>
<circle cx="524.00" cy="161.20" r="3.47"/>
<circle cx="524.00" cy="161.20" r="3.47"/>
<circle cx="526.50" cy="161.70" r="3.47"/>
<circle cx="522.00" cy="165.20" r="3.47"/>
<circle cx="502.00" cy="171.70" r="3.47"/>
<circle cx="502.00" cy="171.70" r="3.47"/>
<circle cx="505.50" cy="170.20" r="3.47"/>
<circle cx="505.50" cy="170.20" r="3.47"/>
<circle cx="514.00" cy="170.20" r="3.47"/>
<circle cx="514.00" cy="170.20" r="3.47"/>
<circle cx="516.00" cy="169.20" r="3.47"/>
<circle cx="513.00" cy="173.20" r="3.47"/>
<circle cx="513.00" cy="173.20" r="3.47"/>
<circle cx="522.00" cy="169.20" r="3.47"/>
<circle cx="522.00" cy="169.20" r="3.47"/>
<circle cx="525.00" cy="170.20" r="3.47"/>
<circle cx="525.00" cy="170.20" r="3.47"/>
<circle cx="521.00" cy="174.20" r="3.47"/>
<circle cx="524.00" cy="173.20" r="3.47"/>
<circle cx="513.00" cy="176.70" r="3.47"/>
<circle cx="521.00" cy="177.20" r="3.47"/>
<circle cx="521.00" cy="177.20" r="3.47"/>
<circle cx="523.00" cy="179.70" r="3.47"/>
<circle cx="523.00" cy="179.70" r="3.47"/>
<circle cx="503.50" cy="179.70" r="3.47"/>
<circle cx="506.00" cy="180.20" r="3.47"/>
<circle cx="525.50" cy="180.20" r="3.47"/>
<circle cx="502.00" cy="185.70" r="3.47"/>
<circle cx="510.50" cy="183.20" r="3.47"/>
<circle cx="510.50" cy="183.20" r="3.47"/>
<circle cx="511.00" cy="186.70" r="3.47"/>
<circle cx="511.00" cy="186.70" r="3.47"/>
<circle cx="509.00" cy="186.20" r="3.47"/>
<circle cx="519.00" cy="184.20" r="3.47"/>
<circle cx="519.00" cy="184.20" r="3.47"/>
<circle cx="522.00" cy="184.70" r="3.47"/>
<circle cx="522.00" cy="184.70" r="3.47"/>
<circle cx="525.00" cy="184.20" r="3.47"/>
<circle cx="518.00" cy="187.20" r="3.47"/>
<circle cx="527.50" cy="187.70" r="3.47"/>
<circle cx="502.50" cy="195.20" r="3.47"/>
<circle cx="505.50" cy="192.70" r="3.47"/>
<circle cx="508.50" cy="194.20" r="3.47"/>
<circle cx="508.50" cy="194.20" r="3.47"/>
<circle cx="511.50" cy="191.20" r="3.47"/>
<circle cx="511.50" cy="191.20" r="3.47"/>
<circle cx="515.00" cy="193.20" r="3.47"/>
<circle cx="515.00" cy="193.20" r="3.47"/>
<circle cx="515.00" cy="193.20" r="3.47"/>
<circle cx="517.50" cy="193.70" r="3.47"/>
<circle cx="517.50" cy="193.70" r="3.47"/>
<circle cx="512.00" cy="196.20" r="3.47"/>
<circle cx="512.00" cy="196.20" r="3.47"/>
<circle cx="509.00" cy="197.70" r="3.47"/>
<circle cx="520.50" cy="190.20" r="3.47"/>
<circle cx="524.00" cy="189.70" r="3.47"/>
<circle cx="527.00" cy="188.70" r="3.47"/>
<circle cx="523.00" cy="199.70" r="3.47"/>
<circle cx="523.00" cy="199.70" r="3.47"/>
<circle cx="525.50" cy="200.20" r="3.47"/>
<circle cx="525.50" cy="200.20" r="3.47"/>
<circle cx="521.00" cy="203.20" r="3.47"/>
<circle cx="521.00" cy="203.20" r="3.47"/>
<circle cx="513.00" cy="200.20" r="3.47"/>
<circle cx="513.00" cy="200.20" r="3.47"/>
<circle cx="506.00" cy="201.70" r="3.47"/>
<circle cx="510.00" cy="201.20" r="3.47"/>
<circle cx="503.00" cy="206.20" r="3.47"/>
<circle cx="503.00" cy="206.20" r="3.47"/>
<circle cx="503.00" cy="206.20" r="3.47"/>
<circle cx="506.00" cy="205.70" r="3.47"/>
<circle cx="506.00" cy="205.70" r="3.47"/>
<circle cx="509.00" cy="206.70" r="3.47"/>
<circle cx="509.00" cy="206.70" r="3.47"/>
<circle cx="509.00" cy="206.70" r="3.47"/>
<circle cx="512.00" cy="206.20" r="3.47"/>
<circle cx="512.00" cy="206.20" r="3.47"/>
<circle cx="515.00" cy="205.70" r="3.47"/>
<circle cx="515.00" cy="205.70" r="3.47"/>
<circle cx="523.50" cy="205.20" r="3.47"/>
<circle cx="523.50" cy="205.20" r="3.47"/>
<circle cx="526.00" cy="206.20" r="3.47"/>
<circle cx="527.50" cy="208.20" r="3.47"/>
<circle cx="522.00" cy="207.70" r="3.47"/>
<circle cx="509.00" cy="210.20" r="3.47"/>
<circle cx="515.50" cy="213.20" r="3.47"/>
<circle cx="515.50" cy="213.20" r="3.47"/>
<circle cx="517.50" cy="214.70" r="3.47"/>
<circle cx="517.50" cy="214.70" r="3.47"/>
<circle cx="513.50" cy="216.20" r="3.47"/>
<circle cx="525.00" cy="213.70" r="3.47"/>
<circle cx="525.00" cy="213.70" r="3.47"/>
<circle cx="523.00" cy="215.20" r="3.47"/>
<circle cx="504.50" cy="219.70" r="3.47"/>
<circle cx="504.50" cy="219.70" r="3.47"/>
<circle cx="503.50" cy="222.70" r="3.47"/>
<circle cx="503.50" cy="222.70" r="3.47"/>
<circle cx="506.50" cy="219.70" r="3.47"/>
<circle cx="522.00" cy="219.20" r="3.47"/>
<circle cx="522.00" cy="219.20" r="3.47"/>
<circle cx="524.00" cy="220.20" r="3.47"/>
<circle cx="519.50" cy="220.70" r="3.47"/>
<circle cx="519.50" cy="220.70" r="3.47"/>
<circle cx="516.50" cy="222.20" r="3.47"/>
<circle cx="516.50" cy="222.20" r="3.47"/>
<circle cx="515.00" cy="223.70" r="3.47"/>
<circle cx="518.00" cy="224.20" r="3.47"/>
<circle cx="518.00" cy="224.20" r="3.47"/>
<circle cx="526.50" cy="227.20" r="3.47"/>
<circle cx="509.00" cy="226.70" r="3.47"/>
<circle cx="503.00" cy="229.20" r="3.47"/>
<circle cx="503.00" cy="229.20" r="3.47"/>
<circle cx="506.00" cy="229.20" r="3.47"/>
<circle cx="519.50" cy="229.20" r="3.47"/>
<circle cx="502.50" cy="230.20" r="3.47"/>
<circle cx="502.50" cy="230.20" r="3.47"/>
<circle cx="506.00" cy="229.70" r="3.47"/>
<circle cx="506.00" cy="229.70" r="3.47"/>
<circle cx="509.00" cy="230.70" r="3.47"/>
<circle cx="509.00" cy="230.70" r="3.47"/>
<circle cx="502.00" cy="234.70" r="3.47"/>
<circle cx="505.50" cy="238.20" r="3.47"/>
<circle cx="505.50" cy="238.20" r="3.47"/>
<circle cx="503.50" cy="245.20" r="3.47"/>
<circle cx="503.50" cy="245.20" r="3.47"/>
<circle cx="506.50" cy="250.70" r="3.47"/>
<circle cx="506.50" cy="250.70" r="3.47"/>
<circle cx="509.50" cy="251.20" r="3.47"/>
<circle cx="509.50" cy="251.20" r="3.47"/>
<circle cx="503.00" cy="254.20" r="3.47"/>
<circle cx="512.00" cy="254.70" r="3.47"/>
<circle cx="520.00" cy="252.20" r="3.47"/>
<circle cx="520.00" cy="252.20" r="3.47"/>
<circle cx="523.00" cy="253.20" r="3.47"/>
<circle cx="523.00" cy="253.20" r="3.47"/>
<circle cx="526.00" cy="252.20" r="3.47"/>
<circle cx="526.00" cy="252.20" r="3.47"/>
<circle cx="527.50" cy="250.70" r="3.47"/>
<circle cx="517.00" cy="250.20" r="3.47"/>
<circle cx="517.00" cy="250.20" r="3.47"/>
<circle cx="510.50" cy="257.70" r="3.47"/>
<circle cx="510.50" cy="257.70" r="3.47"/>
<circle cx="514.00" cy="258.70" r="3.47"/>
<circle cx="517.00" cy="258.20" r="3.47"/>
<circle cx="517.00" cy="258.20" r="3.47"/>
<circle cx="522.00" cy="257.20" r="3.47"/>
<circle cx="522.00" cy="257.20" r="3.47"/>
<circle cx="525.00" cy="258.20" r="3.47"/>
<circle cx="528.00" cy="258.20" r="3.47"/>
<circle cx="504.50" cy="261.20" r="3.47"/>
<circle cx="505.50" cy="263.70" r="3.47"/>
<circle cx="505.50" cy="263.70" r="3.47"/>
<circle cx="503.50" cy="266.70" r="3.47"/>
<circle cx="503.50" cy="266.70" r="3.47"/>
<circle cx="509.00" cy="264.20" r="3.47"/>
<circle cx="512.00" cy="263.20" r="3.47"/>
<circle cx="522.00" cy="263.20" r="3.47"/>
<circle cx="522.00" cy="263.20" r="3.47"/>
<circle cx="525.00" cy="264.20" r="3.47"/>
<circle cx="525.00" cy="264.20" r="3.47"/>
<circle cx="520.00" cy="266.20" r="3.47"/>
<circle cx="520.00" cy="266.20" r="3.47"/>
<circle cx="507.00" cy="267.20" r="3.47"/>
<circle cx="507.00" cy="267.20" r="3.47"/>
<circle cx="516.50" cy="268.20" r="3.47"/>
<circle cx="514.00" cy="261.20" r="3.47"/>
<circle cx="522.63" cy="147.39" r="3.47"/>
<circle cx="504.76" cy="151.70" r="3.47"/>
<circle cx="522.78" cy="151.18" r="3.47"/>
<circle cx="523.33" cy="151.16" r="3.47"/>
<circle cx="526.50" cy="154.02" r="3.47"/>
<circle cx="512.65" cy="154.32" r="3.47"/>
<circle cx="507.76" cy="162.14" r="3.47"/>
<circle cx="505.38" cy="160.96" r="3.47"/>
<circle cx="511.21" cy="160.77" r="3.47"/>
<circle cx="513.17" cy="164.50" r="3.47"/>
<circle cx="513.40" cy="164.08" r="3.47"/>
<circle cx="520.20" cy="161.44" r="3.47"/>
<circle cx="520.57" cy="165.19" r="3.47"/>
<circle cx="502.50" cy="172.20" r="3.47"/>
<circle cx="504.10" cy="169.71" r="3.47"/>
<circle cx="514.55" cy="169.29" r="3.47"/>
<circle cx="512.12" cy="174.61" r="3.47"/>
<circle cx="522.96" cy="168.39" r="3.47"/>
<circle cx="522.78" cy="168.58" r="3.47"/>
<circle cx="524.06" cy="169.37" r="3.47"/>
<circle cx="521.50" cy="175.55" r="3.47"/>
<circle cx="523.68" cy="172.34" r="3.47"/>
<circle cx="519.66" cy="175.88" r="3.47"/>
<circle cx="524.19" cy="180.85" r="3.47"/>
<circle cx="509.56" cy="184.51" r="3.47"/>
<circle cx="511.49" cy="186.34" r="3.47"/>
<circle cx="508.50" cy="185.21" r="3.47"/>
<circle cx="518.34" cy="183.75" r="3.47"/>
<circle cx="523.39" cy="183.82" r="3.47"/>
<circle cx="522.96" cy="185.67" r="3.47"/>
<circle cx="523.65" cy="184.12" r="3.47"/>
<circle cx="519.26" cy="186.28" r="3.47"/>
<circle cx="526.50" cy="186.29" r="3.47"/>
<circle cx="506.44" cy="193.50" r="3.47"/>
<circle cx="507.10" cy="192.89" r="3.47"/>
<circle cx="512.24" cy="192.40" r="3.47"/>
<circle cx="510.82" cy="192.57" r="3.47"/>
<circle cx="515.65" cy="192.65" r="3.47"/>
<circle cx="513.51" cy="193.97" r="3.47"/>
<circle cx="511.20" cy="196.13" r="3.47"/>
<circle cx="522.25" cy="199.49" r="3.47"/>
<circle cx="524.28" cy="198.75" r="3.47"/>
<circle cx="512.46" cy="199.79" r="3.47"/>
<circle cx="509.09" cy="201.96" r="3.47"/>
<circle cx="502.50" cy="204.80" r="3.47"/>
<circle cx="504.44" cy="207.35" r="3.47"/>
<circle cx="504.75" cy="204.49" r="3.47"/>
<circle cx="509.63" cy="206.54" r="3.47"/>
<circle cx="508.75" cy="207.06" r="3.47"/>
<circle cx="516.02" cy="205.08" r="3.47"/>
<circle cx="524.21" cy="204.30" r="3.47"/>
<circle cx="525.24" cy="205.16" r="3.47"/>
<circle cx="515.19" cy="214.68" r="3.47"/>
<circle cx="514.69" cy="214.13" r="3.47"/>
<circle cx="513.42" cy="217.16" r="3.47"/>
<circle cx="503.88" cy="218.56" r="3.47"/>
<circle cx="504.92" cy="222.95" r="3.47"/>
<circle cx="507.60" cy="219.55" r="3.47"/>
<circle cx="522.83" cy="220.54" r="3.47"/>
<circle cx="522.29" cy="219.56" r="3.47"/>
<circle cx="519.11" cy="219.62" r="3.47"/>
<circle cx="518.76" cy="221.00" r="3.47"/>
<circle cx="515.03" cy="221.68" r="3.47"/>
<circle cx="517.44" cy="223.31" r="3.47"/>
<circle cx="507.69" cy="225.50" r="3.47"/>
<circle cx="503.15" cy="229.62" r="3.47"/>
<circle cx="502.50" cy="229.79" r="3.47"/>
<circle cx="505.35" cy="228.62" r="3.47"/>
<circle cx="502.70" cy="229.77" r="3.47"/>
<circle cx="507.09" cy="231.19" r="3.47"/>
<circle cx="505.09" cy="230.38" r="3.47"/>
<circle cx="507.52" cy="231.90" r="3.47"/>
<circle cx="509.96" cy="230.42" r="3.47"/>
<circle cx="505.49" cy="249.24" r="3.47"/>
<circle cx="520.37" cy="251.81" r="3.47"/>
<circle cx="518.94" cy="251.55" r="3.47"/>
<circle cx="524.28" cy="252.03" r="3.47"/>
<circle cx="523.91" cy="254.60" r="3.47"/>
<circle cx="524.88" cy="253.53" r="3.47"/>
<circle cx="515.66" cy="251.48" r="3.47"/>
<circle cx="518.21" cy="250.56" r="3.47"/>
<circle cx="511.36" cy="256.87" r="3.47"/>
<circle cx="515.04" cy="259.69" r="3.47"/>
<circle cx="516.15" cy="257.90" r="3.47"/>
<circle cx="516.65" cy="257.07" r="3.47"/>
<circle cx="522.67" cy="258.39" r="3.47"/>
<circle cx="522.19" cy="257.97" r="3.47"/>
<circle cx="526.01" cy="257.05" r="3.47"/>
<circle cx="503.26" cy="266.95" r="3.47"/>
<circle cx="509.48" cy="264.04" r="3.47"/>
<circle cx="520.57" cy="263.56" r="3.47"/>
<circle cx="521.21" cy="263.99" r="3.47"/>
<circle cx="524.04" cy="264.12" r="3.47"/>
<circle cx="518.89" cy="265.99" r="3.47"/>
<circle cx="519.83" cy="266.23" r="3.47"/>
<circle cx="507.41" cy="265.95" r="3.47"/>
<circle cx="518.71" cy="232.68" r="3.47"/>
<circle cx="526.62" cy="234.15" r="3.47"/>
<circle cx="524.93" cy="249.63" r="3.47"/>
<circle cx="522.68" cy="246.37" r="3.47"/>
<circle cx="512.99" cy="249.37" r="3.47"/>
<circle cx="518.35" cy="248.92" r="3.47"/>
<circle cx="525.99" cy="234.67" r="3.47"/>
<circle cx="523.69" cy="248.45" r="3.47"/>
<circle cx="510.68" cy="238.02" r="3.47"/>
<circle cx="523.11" cy="234.56" r="3.47"/>
<circle cx="525.64" cy="236.65" r="3.47"/>
<circle cx="524.18" cy="234.28" r="3.47"/>
<circle cx="518.54" cy="248.26" r="3.47"/>
<circle cx="518.61" cy="237.44" r="3.47"/>
<circle cx="510.16" cy="234.98" r="3.47"/>
<circle cx="512.40" cy="248.56" r="3.47"/>
<circle cx="521.73" cy="247.82" r="3.47"/>
<circle cx="512.54" cy="245.83" r="3.47"/>
<circle cx="511.57" cy="241.25" r="3.47"/>
<circle cx="520.95" cy="238.18" r="3.47"/>
<circle cx="525.21" cy="241.69" r="3.47"/>
<circle cx="519.94" cy="247.59" r="3.47"/>
<circle cx="511.38" cy="249.57" r="3.47"/>
<circle cx="520.84" cy="238.80" r="3.47"/>
<circle cx="523.86" cy="236.47" r="3.47"/>
<circle cx="527.33" cy="242.09" r="3.47"/>
<circle cx="515.98" cy="245.46" r="3.47"/>
<circle cx="517.46" cy="234.88" r="3.47"/>
<circle cx="522.88" cy="232.57" r="3.47"/>
<circle cx="524.26" cy="236.27" r="3.47"/>
<circle cx="521.01" cy="249.41" r="3.47"/>
<circle cx="520.05" cy="243.65" r="3.47"/>
<circle cx="515.13" cy="231.73" r="3.47"/>
<circle cx="510.11" cy="234.39" r="3.47"/>
<circle cx="520.59" cy="239.48" r="3.47"/>
<circle cx="518.73" cy="247.82" r="3.47"/>
<circle cx="511.88" cy="235.79" r="3.47"/>
<circle cx="521.26" cy="232.10" r="3.47"/>
<circle cx="509.55" cy="238.09" r="3.47"/>
<circle cx="511.41" cy="238.13" r="3.47"/>
<circle cx="513.54" cy="242.20" r="3.47"/>
<circle cx="520.10" cy="235.38" r="3.47"/>
<circle cx="520.73" cy="240.25" r="3.47"/>
<circle cx="511.93" cy="248.56" r="3.47"/>
<circle cx="513.88" cy="234.39" r="3.47"/>
<circle cx="511.22" cy="243.19" r="3.47"/>
<circle cx="525.18" cy="245.78" r="3.47"/>
<circle cx="509.71" cy="243.31" r="3.47"/>
<circle cx="519.62" cy="238.01" r="3.47"/>
<circle cx="521.12" cy="239.69" r="3.47"/>
<circle cx="526.37" cy="244.90" r="3.47"/>
<circle cx="513.97" cy="247.96" r="3.47"/>
<circle cx="510.29" cy="241.27" r="3.47"/>
<circle cx="510.55" cy="245.72" r="3.47"/>
<circle cx="509.72" cy="241.62" r="3.47"/>
<circle cx="526.44" cy="234.26" r="3.47"/>
<circle cx="513.09" cy="242.65" r="3.47"/>
<circle cx="518.63" cy="243.25" r="3.47"/>
<circle cx="524.14" cy="234.84" r="3.47"/>
<circle cx="510.37" cy="247.71" r="3.47"/>
<circle cx="523.59" cy="244.58" r="3.47"/>
<circle cx="509.61" cy="246.90" r="3.47"/>
<circle cx="522.91" cy="240.07" r="3.47"/>
<circle cx="522.85" cy="239.84" r="3.47"/>
<circle cx="513.57" cy="233.60" r="3.47"/>
<circle cx="513.68" cy="232.40" r="3.47"/>
<circle cx="515.54" cy="245.19" r="3.47"/>
<circle cx="522.01" cy="246.92" r="3.47"/>
<circle cx="522.31" cy="236.49" r="3.47"/>
<circle cx="519.47" cy="239.55" r="3.47"/>
<circle cx="523.69" cy="241.12" r="3.47"/>
<circle cx="514.28" cy="243.26" r="3.47"/>
<circle cx="526.87" cy="235.61" r="3.47"/>
<circle cx="525.34" cy="231.97" r="3.47"/>
<circle cx="522.89" cy="248.70" r="3.47"/>
<circle cx="520.41" cy="278.33" r="3.47"/>
<circle cx="523.62" cy="278.39" r="3.47"/>
<circle cx="517.64" cy="289.68" r="3.47"/>
<circle cx="518.47" cy="298.55" r="3.47"/>
<circle cx="519.24" cy="294.78" r="3.47"/>
<circle cx="512.99" cy="290.66" r="3.47"/>
<circle cx="516.19" cy="277.74" r="3.47"/>
<circle cx="507.59" cy="287.50" r="3.47"/>
<circle cx="504.37" cy="296.43" r="3.47"/>
<circle cx="505.97" cy="269.03" r="3.47"/>
<circle cx="505.06" cy="297.00" r="3.47"/>
<circle cx="510.78" cy="272.60" r="3.47"/>
<circle cx="503.19" cy="269.49" r="3.47"/>
<circle cx="519.12" cy="287.85" r="3.47"/>
<circle cx="519.23" cy="291.04" r="3.47"/>
<circle cx="504.08" cy="286.50" r="3.47"/>
<circle cx="522.17" cy="295.83" r="3.47"/>
<circle cx="504.08" cy="295.10" r="3.47"/>
<circle cx="524.45" cy="297.47" r="3.47"/>
<circle cx="505.07" cy="274.58" r="3.47"/>
<circle cx="505.19" cy="269.27" r="3.47"/>
<circle cx="522.85" cy="293.37" r="3.47"/>
<circle cx="517.72" cy="293.78" r="3.47"/>
<circle cx="517.66" cy="277.11" r="3.47"/>
<circle cx="504.90" cy="271.23" r="3.47"/>
<circle cx="520.68" cy="274.55" r="3.47"/>
<circle cx="510.16" cy="281.34" r="3.47"/>
<circle cx="503.00" cy="276.16" r="3.47"/>
<circle cx="509.28" cy="290.39" r="3.47"/>
<circle cx="511.33" cy="278.15" r="3.47"/>
<circle cx="525.64" cy="283.82" r="3.47"/>
<circle cx="522.93" cy="287.37" r="3.47"/>
<circle cx="512.97" cy="292.16" r="3.47"/>
<circle cx="510.82" cy="290.04" r="3.47"/>
<circle cx="515.41" cy="274.91" r="3.47"/>
<circle cx="523.19" cy="271.02" r="3.47"/>
<circle cx="522.18" cy="273.48" r="3.47"/>
<circle cx="502.53" cy="274.46" r="3.47"/>
<circle cx="520.79" cy="298.51" r="3.47"/>
<circle cx="514.30" cy="292.90" r="3.47"/>
<circle cx="506.93" cy="283.53" r="3.47"/>
<circle cx="509.31" cy="274.86" r="3.47"/>
<circle cx="519.29" cy="283.65" r="3.47"/>
<circle cx="505.14" cy="287.93" r="3.47"/>
<circle cx="504.44" cy="292.63" r="3.47"/>
<circle cx="519.23" cy="292.59" r="3.47"/>
<circle cx="517.57" cy="279.22" r="3.47"/>
<circle cx="512.13" cy="280.43" r="3.47"/>
<circle cx="523.87" cy="270.87" r="3.47"/>
<circle cx="523.82" cy="268.98" r="3.47"/>
<circle cx="507.45" cy="276.36" r="3.47"/>
<circle cx="524.13" cy="283.74" r="3.47"/>
<circle cx="508.11" cy="282.49" r="3.47"/>
<circle cx="515.26" cy="291.59" r="3.47"/>
<circle cx="520.57" cy="288.24" r="3.47"/>
<circle cx="510.86" cy="278.33" r="3.47"/>
<circle cx="506.23" cy="294.34" r="3.47"/>
<circle cx="518.39" cy="291.20" r="3.47"/>
<circle cx="506.57" cy="281.80" r="3.47"/>
<circle cx="521.06" cy="286.15" r="3.47"/>
<circle cx="523.74" cy="275.58" r="3.47"/>
<circle cx="507.10" cy="277.55" r="3.47"/>
<circle cx="519.38" cy="294.35" r="3.47"/>
<circle cx="506.21" cy="273.04" r="3.47"/>
<circle cx="508.44" cy="278.32" r="3.47"/>
<circle cx="510.37" cy="274.07" r="3.47"/>
<circle cx="525.90" cy="290.79" r="3.47"/>
<circle cx="504.94" cy="298.03" r="3.47"/>
<circle cx="526.11" cy="292.84" r="3.47"/>
<circle cx="520.10" cy="281.68" r="3.47"/>
<circle cx="507.21" cy="287.98" r="3.47"/>
<circle cx="505.06" cy="274.60" r="3.47"/>
<circle cx="519.14" cy="283.72" r="3.47"/>
<circle cx="517.68" cy="282.56" r="3.47"/>
<circle cx="505.90" cy="286.91" r="3.47"/>
<circle cx="512.21" cy="291.17" r="3.47"/>
<circle cx="524.29" cy="281.53" r="3.47"/>
<circle cx="516.28" cy="291.42" r="3.47"/>
<circle cx="512.61" cy="275.29" r="3.47"/>
<circle cx="519.83" cy="295.48" r="3.47"/>
<circle cx="521.61" cy="289.90" r="3.47"/>
<circle cx="522.79" cy="289.27" r="3.47"/>
<circle cx="519.62" cy="282.27" r="3.47"/>
<circle cx="514.70" cy="287.68" r="3.47"/>
<circle cx="511.47" cy="281.21" r="3.47"/>
<circle cx="521.74" cy="290.31" r="3.47"/>
<circle cx="519.44" cy="275.95" r="3.47"/>
<circle cx="516.35" cy="282.31" r="3.47"/>
<circle cx="519.32" cy="280.89" r="3.47"/>
<circle cx="520.13" cy="297.04" r="3.47"/>
<circle cx="512.75" cy="288.49" r="3.47"/>
<circle cx="521.67" cy="280.25" r="3.47"/>
<circle cx="517.35" cy="298.41" r="3.47"/>
<circle cx="510.57" cy="285.04" r="3.47"/>
<circle cx="524.11" cy="284.30" r="3.47"/>
<circle cx="511.52" cy="286.01" r="3.47"/>
<circle cx="518.12" cy="290.44" r="3.47"/>
<circle cx="517.68" cy="288.02" r="3.47"/>
<circle cx="522.43" cy="284.37" r="3.47"/>
<circle cx="516.16" cy="297.59" r="3.47"/>
<circle cx="513.15" cy="289.42" r="3.47"/>
<circle cx="515.89" cy="291.84" r="3.47"/>
<circle cx="511.84" cy="298.72" r="3.47"/>
<circle cx="514.12" cy="280.59" r="3.47"/>
<circle cx="510.20" cy="281.18" r="3.47"/>
<circle cx="516.31" cy="289.85" r="3.47"/>
<circle cx="515.28" cy="276.42" r="3.47"/>
<circle cx="513.37" cy="291.19" r="3.47"/>
<circle cx="524.10" cy="284.54" r="3.47"/>
<circle cx="515.88" cy="274.77" r="3.47"/>
<circle cx="522.14" cy="287.86" r="3.47"/>
<circle cx="517.04" cy="285.62" r="3.47"/>
<circle cx="513.39" cy="298.08" r="3.47"/>
<circle cx="515.30" cy="288.00" r="3.47"/>
<circle cx="522.28" cy="293.50" r="3.47"/>
<circle cx="517.02" cy="277.32" r="3.47"/>
<circle cx="522.51" cy="279.20" r="3.47"/>
<circle cx="522.76" cy="276.49" r="3.47"/>
<circle cx="515.64" cy="276.06" r="3.47"/>
<circle cx="516.39" cy="273.96" r="3.47"/>
<circle cx="502.50" cy="305.70" r="3.47"/>
<circle cx="502.50" cy="305.70" r="3.47"/>
<circle cx="504.50" cy="304.70" r="3.47"/>
<circle cx="504.50" cy="304.70" r="3.47"/>
<circle cx="512.00" cy="304.20" r="3.47"/>
<circle cx="512.00" cy="304.20" r="3.47"/>
<circle cx="515.00" cy="303.70" r="3.47"/>
<circle cx="515.00" cy="303.70" r="3.47"/>
<circle cx="519.00" cy="303.20" r="3.47"/>
<circle cx="519.00" cy="303.20" r="3.47"/>
<circle cx="522.00" cy="302.20" r="3.47"/>
<circle cx="522.00" cy="302.20" r="3.47"/>
<circle cx="523.00" cy="306.20" r="3.47"/>
<circle cx="523.00" cy="306.20" r="3.47"/>
<circle cx="525.00" cy="305.20" r="3.47"/>
<circle cx="526.50" cy="303.70" r="3.47"/>
<circle cx="508.00" cy="302.20" r="3.47"/>
<circle cx="506.00" cy="301.20" r="3.47"/>
<circle cx="508.50" cy="313.20" r="3.47"/>
<circle cx="513.50" cy="311.50" r="3.47"/>
<circle cx="520.00" cy="311.20" r="3.47"/>
<circle cx="520.00" cy="311.20" r="3.47"/>
<circle cx="520.50" cy="314.20" r="3.47"/>
<circle cx="526.00" cy="311.50" r="3.47"/>
<circle cx="503.50" cy="319.50" r="3.47"/>
<circle cx="526.00" cy="318.70" r="3.47"/>
<circle cx="526.00" cy="318.70" r="3.47"/>
<circle cx="526.00" cy="318.70" r="3.47"/>
<circle cx="509.00" cy="318.70" r="3.47"/>
<circle cx="509.00" cy="318.70" r="3.47"/>
<circle cx="510.50" cy="321.20" r="3.47"/>
<circle cx="510.50" cy="321.20" r="3.47"/>
<circle cx="513.00" cy="322.70" r="3.47"/>
<circle cx="513.00" cy="322.70" r="3.47"/>
<circle cx="513.00" cy="322.70" r="3.47"/>
<circle cx="516.00" cy="323.20" r="3.47"/>
<circle cx="516.00" cy="323.20" r="3.47"/>
<circle cx="519.00" cy="322.20" r="3.47"/>
<circle cx="509.50" cy="328.70" r="3.47"/>
<circle cx="509.50" cy="328.70" r="3.47"/>
<circle cx="512.00" cy="329.20" r="3.47"/>
<circle cx="512.00" cy="329.20" r="3.47"/>
<circle cx="515.00" cy="329.70" r="3.47"/>
<circle cx="515.00" cy="329.70" r="3.47"/>
<circle cx="516.50" cy="331.70" r="3.47"/>
<circle cx="521.00" cy="328.20" r="3.47"/>
<circle cx="523.50" cy="329.20" r="3.47"/>
<circle cx="525.50" cy="329.70" r="3.47"/>
<circle cx="502.50" cy="336.20" r="3.47"/>
<circle cx="504.50" cy="336.70" r="3.47"/>
<circle cx="504.50" cy="336.70" r="3.47"/>
<circle cx="507.00" cy="338.20" r="3.47"/>
<circle cx="507.00" cy="338.20" r="3.47"/>
<circle cx="508.50" cy="339.70" r="3.47"/>
<circle cx="514.00" cy="338.70" r="3.47"/>
<circle cx="521.50" cy="336.20" r="3.47"/>
<circle cx="521.00" cy="339.20" r="3.47"/>
<circle cx="521.00" cy="339.20" r="3.47"/>
<circle cx="507.50" cy="342.70" r="3.47"/>
<circle cx="524.50" cy="342.70" r="3.47"/>
<circle cx="507.50" cy="342.70" r="3.47"/>
<circle cx="524.50" cy="342.70" r="3.47"/>
<circle cx="522.50" cy="349.50" r="3.47"/>
<circle cx="526.50" cy="349.50" r="3.47"/>
<circle cx="502.50" cy="358.50" r="3.47"/>
<circle cx="521.50" cy="358.50" r="3.47"/>
<circle cx="509.30" cy="371.50" r="3.47"/>
<circle cx="515.50" cy="371.50" r="3.47"/>
<circle cx="516.50" cy="384.50" r="3.47"/>
<circle cx="520.50" cy="384.50" r="3.47"/>
</g>
<g stroke="#000" stroke-width="1.111" fill="none">
<line x1="142.50" y1="445.5" x2="142.50" y2="450.5"/>
<line x1="266.50" y1="445.5" x2="266.50" y2="450.5"/>
<line x1="390.50" y1="445.5" x2="390.50" y2="450.5"/>
<line x1="514.50" y1="445.5" x2="514.50" y2="450.5"/>
<line x1="80.5" y1="406.50" x2="75.5" y2="406.50"/>
<line x1="80.5" y1="358.50" x2="75.5" y2="358.50"/>
<line x1="80.5" y1="310.50" x2="75.5" y2="310.50"/>
<line x1="80.5" y1="263.50" x2="75.5" y2="263.50"/>
<line x1="80.5" y1="215.50" x2="75.5" y2="215.50"/>
<line x1="80.5" y1="167.50" x2="75.5" y2="167.50"/>
<line x1="80.5" y1="120.50" x2="75.5" y2="120.50"/>
<line x1="80.5" y1="72.50" x2="75.5" y2="72.50"/>
<rect x="80.5" y="60.5" width="496" height="385" stroke-linejoin="miter"/>
</g>
<text x="142.00" y="466.20" text-anchor="middle">Bitter Lake</text>
<text x="266.00" y="466.20" text-anchor="middle">Clear Lake</text>
<text x="390.00" y="466.20" text-anchor="middle">Mill Pond</text>
<text x="514.00" y="466.20" text-anchor="middle">Tannery Lake</text>
<text y="411"><tspan x="48.81">0</tspan><tspan x="56.75">.0</tspan></text>
<text y="363"><tspan x="48.81">0</tspan><tspan x="56.75">.5</tspan></text>
<text y="316"><tspan x="49.01">1</tspan><tspan x="56.75">.0</tspan></text>
<text y="268"><tspan x="49.01">1</tspan><tspan x="56.75">.5</tspan></text>
<text y="221"><tspan x="47.91">2</tspan><tspan x="56.75">.0</tspan></text>
<text y="173"><tspan x="47.91">2</tspan><tspan x="56.75">.5</tspan></text>
<text y="125"><tspan x="47.91">3</tspan><tspan x="55.75">.0</tspan></text>
<text y="78"><tspan x="47.91">3</tspan><tspan x="55.75">.5</tspan></text>
<text x="328.10" y="485.00" text-anchor="middle" letter-spacing="-0.22">lake</text>
<text transform="translate(38.50,253.20) rotate(-90)" text-anchor="middle">Log10 of Zinc_concentration</text>
</svg></body></html>
